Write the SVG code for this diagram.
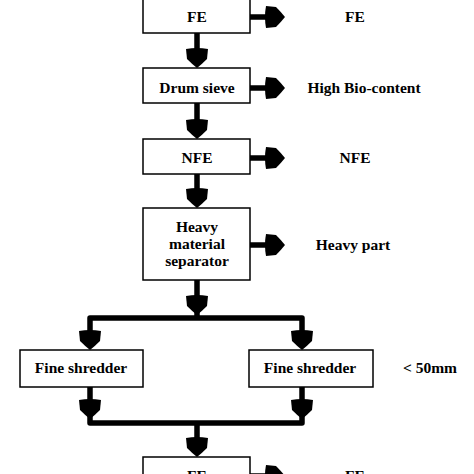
<svg xmlns="http://www.w3.org/2000/svg" xmlns:xlink="http://www.w3.org/1999/xlink" width="474" height="474" viewBox="0 0 474 474">
<style>
.box{fill:#fff;stroke:#000;stroke-width:1.5}
.t{font-family:"Liberation Serif","Times New Roman",serif;font-weight:bold;font-size:15.5px;fill:#000;text-anchor:middle}
.sh{fill:none;stroke:#000;stroke-width:5.5;stroke-linejoin:round}
</style>
<defs>
<path id="hd" d="M-11,-19 Q0,-21 11,-19 L10,-9 Q5,-4 0,0 Q-5,-4 -10,-9 Z" fill="#000"/>
</defs>
<rect width="474" height="474" fill="#fff"/>
<g id="n_fe1"><rect class="box" x="143" y="-10" width="107" height="43"/><text class="t" x="197" y="22">FE</text></g>
<g id="n_drum"><rect class="box" x="143" y="68" width="107" height="35"/><text class="t" x="197" y="93">Drum sieve</text></g>
<g id="n_nfe"><rect class="box" x="143" y="139" width="107" height="35"/><text class="t" x="197" y="163">NFE</text></g>
<g id="n_heavy"><rect class="box" x="143" y="208" width="107" height="72"/><text class="t" x="197" y="232">Heavy</text><text class="t" x="197" y="249">material</text><text class="t" x="197" y="266">separator</text></g>
<g id="n_fs1"><rect class="box" x="20" y="350" width="123" height="37"/><text class="t" x="81" y="373">Fine shredder</text></g>
<g id="n_fs2"><rect class="box" x="249" y="350" width="124" height="37"/><text class="t" x="310" y="373">Fine shredder</text></g>
<g id="n_fe2"><rect class="box" x="143" y="457" width="107" height="40"/><text class="t" x="197" y="481">FE</text></g>
<g id="labels">
<text class="t" x="355" y="22">FE</text>
<text class="t" x="364" y="93">High Bio-content</text>
<text class="t" x="355" y="163">NFE</text>
<text class="t" x="353" y="250">Heavy part</text>
<text class="t" x="430" y="373">&lt; 50mm</text>
<text class="t" x="355" y="481">FE</text>
</g>
<g id="connectors">
<path class="sh" d="M197,33 V54 M197,103 V125 M197,174 V194 M197,280 V318 M90,336 V318 H302 V336 M90,387 V423 H302 V387 M197,423 V443"/>
<path class="sh" d="M250,17 H268 M250,88 H268 M250,158 H268 M250,245 H268 M250,476 H268"/>
<use xlink:href="#hd" transform="translate(197,68)"/>
<use xlink:href="#hd" transform="translate(197,139)"/>
<use xlink:href="#hd" transform="translate(197,208)"/>
<use xlink:href="#hd" transform="translate(197,315)"/>
<use xlink:href="#hd" transform="translate(90,350)"/>
<use xlink:href="#hd" transform="translate(302,350)"/>
<use xlink:href="#hd" transform="translate(90,419)"/>
<use xlink:href="#hd" transform="translate(302,419)"/>
<use xlink:href="#hd" transform="translate(197,457)"/>
<use xlink:href="#hd" transform="translate(285,17) rotate(-90)"/>
<use xlink:href="#hd" transform="translate(285,88) rotate(-90)"/>
<use xlink:href="#hd" transform="translate(285,158) rotate(-90)"/>
<use xlink:href="#hd" transform="translate(285,245) rotate(-90)"/>
<use xlink:href="#hd" transform="translate(285,476) rotate(-90)"/>
</g>
</svg>
